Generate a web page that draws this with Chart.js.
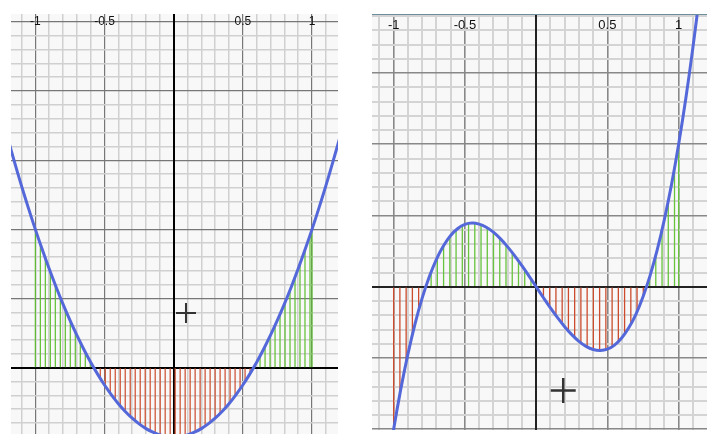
<!DOCTYPE html>
<html><head><meta charset="utf-8">
<script src="https://cdn.jsdelivr.net/npm/chart.js@4.4.1/dist/chart.umd.min.js"></script>
<style>
html,body{margin:0;padding:0;background:#fff;width:718px;height:444px;overflow:hidden;}
canvas{position:absolute;background:#f8f8f8;}
#c1{left:11px;top:14px;}
#c2{left:372px;top:15px;}
#topline{position:absolute;left:372px;top:14px;width:335px;height:1px;background:#6d8e9c;}
</style></head><body>
<canvas id="c1" width="327" height="420"></canvas>
<div id="topline"></div>
<canvas id="c2" width="335" height="415"></canvas>
<script>
// Tick labels shown along the top of each panel
const tickValues = [-1, -0.5, 0.5, 1];
const tickLabels = ['-1', '-0.5', '0.5', '1'];

// Left panel: blue curve
const leftCurveX = [-1.2,-1.15,-1.1,-1.05,-1,-0.95,-0.9,-0.85,-0.8,-0.75,-0.7,-0.65,-0.6,-0.55,-0.5,-0.45,-0.4,-0.35,-0.3,-0.25,-0.2,-0.15,-0.1,-0.05,0,0.05,0.1,0.15,0.2,0.25,0.3,0.35,0.4,0.45,0.5,0.55,0.6,0.65,0.7,0.75,0.8,0.85,0.9,0.95,1,1.05,1.1,1.15,1.2];
const leftCurveY = [1.66,1.484,1.315,1.154,1.0,0.854,0.715,0.584,0.46,0.344,0.235,0.134,0.04,-0.046,-0.125,-0.196,-0.26,-0.316,-0.365,-0.406,-0.44,-0.466,-0.485,-0.496,-0.5,-0.496,-0.485,-0.466,-0.44,-0.406,-0.365,-0.316,-0.26,-0.196,-0.125,-0.046,0.04,0.134,0.235,0.344,0.46,0.584,0.715,0.854,1.0,1.154,1.315,1.484,1.66];

// Left panel: hatch lines (x position, height)
const leftHatchX = [-1,-0.9639,-0.9278,-0.8917,-0.8556,-0.8195,-0.7834,-0.7473,-0.7112,-0.6751,-0.639,-0.6029,-0.5668,-0.5307,-0.4946,-0.4585,-0.4224,-0.3863,-0.3502,-0.3141,-0.278,-0.2419,-0.2058,-0.1697,-0.1336,-0.0975,-0.0614,-0.0253,0.0108,0.0469,0.083,0.1191,0.1552,0.1913,0.2274,0.2635,0.2996,0.3357,0.3718,0.4079,0.444,0.4801,0.5162,0.5523,0.5884,0.6245,0.6606,0.6967,0.7328,0.7689,0.805,0.8411,0.8772,0.9133,0.9494,0.9855,1];
const leftHatchY = [1.0,0.8937,0.7912,0.6927,0.5981,0.5074,0.4206,0.3377,0.2587,0.1836,0.1125,0.0452,-0.0181,-0.0775,-0.1331,-0.1847,-0.2324,-0.2762,-0.316,-0.352,-0.3841,-0.4122,-0.4365,-0.4568,-0.4732,-0.4857,-0.4943,-0.499,-0.4998,-0.4967,-0.4897,-0.4787,-0.4639,-0.4451,-0.4224,-0.3959,-0.3654,-0.331,-0.2926,-0.2504,-0.2043,-0.1543,-0.1003,-0.0424,0.0193,0.085,0.1546,0.2281,0.3055,0.3868,0.472,0.5612,0.6542,0.7512,0.852,0.9568,1.0];

// Left panel: mouse cursor
const leftCursorX = [0.089];
const leftCursorY = [0.395];

// Right panel: blue curve
const rightCurveX = [-1.15,-1.1,-1.05,-1,-0.95,-0.9,-0.85,-0.8,-0.75,-0.7,-0.65,-0.6,-0.55,-0.5,-0.45,-0.4,-0.35,-0.3,-0.25,-0.2,-0.15,-0.1,-0.05,0,0.05,0.1,0.15,0.2,0.25,0.3,0.35,0.4,0.45,0.5,0.55,0.6,0.65,0.7,0.75,0.8,0.85,0.9,0.95,1,1.05,1.1,1.15,1.2];
const rightCurveY = [-2.077,-1.678,-1.319,-1.0,-0.718,-0.473,-0.26,-0.08,0.07,0.193,0.288,0.36,0.409,0.438,0.447,0.44,0.418,0.383,0.336,0.28,0.217,0.148,0.075,0,-0.075,-0.148,-0.217,-0.28,-0.336,-0.383,-0.418,-0.44,-0.447,-0.438,-0.409,-0.36,-0.288,-0.193,-0.07,0.08,0.26,0.473,0.718,1.0,1.319,1.678,2.077,2.52];

// Right panel: hatch lines
const rightHatchX = [-1,-0.9562,-0.9124,-0.8686,-0.8248,-0.781,-0.7372,-0.6934,-0.6496,-0.6058,-0.562,-0.5182,-0.4744,-0.4306,-0.3868,-0.343,-0.2992,-0.2554,-0.2116,-0.1678,-0.124,-0.0802,-0.0364,0.0074,0.0512,0.095,0.1388,0.1826,0.2264,0.2702,0.314,0.3578,0.4016,0.4454,0.4892,0.533,0.5768,0.6206,0.6644,0.7082,0.752,0.7958,0.8396,0.8834,0.9272,0.971,1];
const rightHatchY = [-1.0,-0.7514,-0.5303,-0.3354,-0.1656,-0.0195,0.1042,0.2066,0.2891,0.3529,0.3992,0.4294,0.4447,0.4463,0.4355,0.4136,0.3818,0.3414,0.2937,0.2399,0.1812,0.119,0.0545,-0.0111,-0.0765,-0.1404,-0.2015,-0.2587,-0.3106,-0.356,-0.3936,-0.4222,-0.4405,-0.4472,-0.4411,-0.4209,-0.3854,-0.3333,-0.2634,-0.1743,-0.0649,0.0663,0.2203,0.3984,0.602,0.8322,1.0];

// Right panel: mouse cursor
const rightCursorX = [0.19];
const rightCursorY = [-0.727];

function pts(xs, ys) { return xs.map((x, i) => ({x: x, y: ys[i]})); }

function makeChart(id, cfg) {
  const tenth = c => (c && c.tick) ? Math.round(c.tick.value * 10) : 1;
  const grid = {
    drawTicks: false,
    offset: false,
    color: c => { const t = tenth(c); if (t === 0) return 'rgba(0,0,0,0)'; return t % 5 === 0 ? cfg.major : cfg.minor; },
    lineWidth: c => { const t = tenth(c); return t % 5 === 0 ? cfg.majorW : cfg.minorW; }
  };
  return new Chart(document.getElementById(id), {
    type: 'line',
    data: {
      datasets: [
        { type: 'line', data: pts(cfg.curveX, cfg.curveY), borderColor: cfg.curveColor, borderWidth: 3,
          pointRadius: 0, tension: 0.4, fill: false, order: 0, xAxisID: 'x', yAxisID: 'y' },
        { type: 'bar', data: pts(cfg.hatchX, cfg.hatchY),
          backgroundColor: c => (c.raw && c.raw.y >= 0) ? cfg.green : cfg.red,
          barThickness: cfg.hatchW, borderWidth: 0, inflateAmount: 0, order: 2, xAxisID: 'x', yAxisID: 'y' },
        { type: 'line', data: pts(cfg.cursorX, cfg.cursorY), showLine: false, pointStyle: 'cross',
          pointRadius: cfg.cursorR, pointBorderWidth: cfg.cursorW, pointBorderColor: '#333',
          pointBackgroundColor: '#333', order: 1, xAxisID: 'x', yAxisID: 'y' }
      ]
    },
    options: {
      responsive: false, animation: false, events: [],
      layout: { padding: 0, autoPadding: false },
      plugins: { legend: { display: false }, tooltip: { enabled: false } },
      scales: {
        x: { type: 'linear', min: cfg.xmin, max: cfg.xmax, position: { y: 0 }, offset: false,
             ticks: { display: false, stepSize: 0.1, includeBounds: false },
             grid: grid, border: { display: true, color: cfg.axisColor, width: 2 } },
        y: { type: 'linear', min: cfg.ymin, max: cfg.ymax, position: { x: 0 }, offset: false,
             ticks: { display: false, stepSize: 0.1, includeBounds: false },
             grid: grid, border: { display: true, color: cfg.axisColor, width: 2 } },
        xt: { type: 'linear', axis: 'x', min: cfg.xmin, max: cfg.xmax, position: { y: cfg.labelY }, offset: false,
              grid: { display: false, drawTicks: false, offset: false }, border: { display: false },
              afterBuildTicks: s => { s.ticks = tickValues.map(v => ({ value: v })); },
              ticks: { autoSkip: false, maxRotation: 0, minRotation: 0, padding: cfg.labelPad, color: '#111',
                       font: { family: '"Liberation Sans", Arial, sans-serif', size: cfg.fontSize },
                       callback: (v, i) => tickLabels[i] } }
      }
    }
  });
}

makeChart('c1', {
  xmin: -1.176, xmax: 1.188, ymin: -0.479, ymax: 2.557,
  curveX: leftCurveX, curveY: leftCurveY, hatchX: leftHatchX, hatchY: leftHatchY, hatchW: 1.2,
  cursorX: leftCursorX, cursorY: leftCursorY, cursorR: 10, cursorW: 2,
  curveColor: '#5468d9', green: '#5cbf2e', red: '#cc4b2c',
  minor: '#d0d0d0', minorW: 1.5, major: '#777777', majorW: 1.2, axisColor: '#000',
  labelY: 2.5, labelPad: -7.5, fontSize: 12
});

makeChart('c2', {
  xmin: -1.152, xmax: 1.199, ymin: -1.005, ymax: 1.907,
  curveX: rightCurveX, curveY: rightCurveY, hatchX: rightHatchX, hatchY: rightHatchY, hatchW: 1.3,
  cursorX: rightCursorX, cursorY: rightCursorY, cursorR: 12.5, cursorW: 2.5,
  curveColor: '#5468d9', green: '#66c33c', red: '#cc4b2c',
  minor: '#d4d4d4', minorW: 2, major: '#888888', majorW: 1.6, axisColor: '#222',
  labelY: 1.8, labelPad: -13, fontSize: 13
});
</script></body></html>
